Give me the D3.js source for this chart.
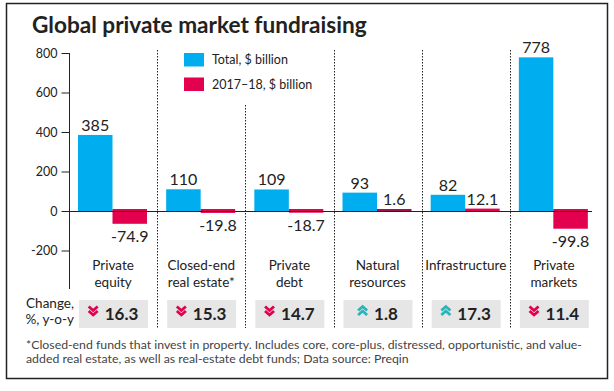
<!DOCTYPE html>
<html>
<head>
<meta charset="utf-8">
<script src="https://cdn.jsdelivr.net/npm/d3@7"></script>
<style>
  html, body { margin: 0; padding: 0; background: #fff; }
  svg { display: block; font-family: Lato, "Open Sans", sans-serif; }
</style>
</head>
<body>
<div id="chart"></div>
<script>
/* ── Data ─────────────────────────────────────────────────────────── */

const categories = ['Private equity', 'Closed-end real estate*', 'Private debt',
  'Natural resources', 'Infrastructure', 'Private markets'];
const categoryLines = [['Private', 'equity'], ['Closed-end', 'real estate*'], ['Private', 'debt'],
  ['Natural', 'resources'], ['Infrastructure'], ['Private', 'markets']];
const totals = [385, 110, 109, 93, 82, 778];
const change1718 = [-74.9, -19.8, -18.7, 1.6, 12.1, -99.8];
const yoyChange = [-16.3, -15.3, -14.7, 1.8, 17.3, -11.4];
const yTicks = [-200, 0, 200, 400, 600, 800];
const seriesNames = ['Total, $ billion', '2017\u201318, $ billion'];
const footnote = [
  '*Closed-end funds that invest in property. Includes core, core-plus, distressed, opportunistic, and value-',
  'added real estate, as well as real-estate debt funds; Data source: Preqin'
];

/* ── Palette ──────────────────────────────────────────────────────── */

const COLORS = {
  total: '#00ADEE',
  change: '#E2004F',
  up: '#2AB4B9',
  box: '#E6E6E6',
  text: '#222222',
  note: '#444444',
};

/* ── Setup ────────────────────────────────────────────────────────── */

const W = 614, H = 391;
const svg = d3.select('#chart').append('svg')
  .attr('width', W).attr('height', H);

svg.append('rect')
  .attr('x', 6.5).attr('y', 3.5).attr('width', 601).attr('height', 375)
  .attr('fill', '#fff').attr('stroke', '#222').attr('stroke-width', 1.5);

svg.append('text')
  .attr('x', 32).attr('y', 33)
  .attr('font-size', 22.6).attr('font-weight', 700).attr('fill', COLORS.text)
  .text('Global private market fundraising');

const x = d3.scaleBand().domain(categories).range([69, 598]).paddingInner(0).paddingOuter(0);
const xSub = d3.scaleBand().domain(['total', 'change']).range([9, 78]);
const y = d3.scaleLinear().domain([-200, 800]).range([250.5, 53]);

/* ── Separators ───────────────────────────────────────────────────── */

svg.append('g').selectAll('line')
  .data(categories.slice(1))
  .join('line')
  .attr('x1', d => Math.round(x(d)) + 0.5)
  .attr('x2', d => Math.round(x(d)) + 0.5)
  .attr('y1', (d, i) => i === 1 ? 105 : 50)
  .attr('y2', 328)
  .attr('stroke', '#222').attr('stroke-width', 1)
  .attr('stroke-dasharray', '1.5,1.5');

/* ── Axis ─────────────────────────────────────────────────────────── */

const yAxis = d3.axisLeft(y).tickValues(yTicks).tickSize(8).tickPadding(4)
  .tickFormat(d => String(d));
const axisG = svg.append('g')
  .attr('transform', 'translate(69.5,0)')
  .call(yAxis);
axisG.select('.domain').remove();
axisG.selectAll('.tick line').attr('stroke', '#222');
axisG.selectAll('.tick text')
  .attr('font-family', 'Lato, sans-serif').attr('font-size', 12.5).attr('fill', COLORS.text);
axisG.append('line')
  .attr('x1', 0).attr('x2', 0).attr('y1', y(800)).attr('y2', 289)
  .attr('stroke', '#222');

/* ── Bars ─────────────────────────────────────────────────────────── */

const groups = svg.append('g').selectAll('g')
  .data(categories)
  .join('g')
  .attr('transform', d => 'translate(' + x(d) + ',0)');

groups.append('rect')
  .attr('x', xSub('total')).attr('width', xSub.bandwidth())
  .attr('y', (d, i) => y(totals[i]))
  .attr('height', (d, i) => y(0) - y(totals[i]))
  .attr('fill', COLORS.total);

groups.append('rect')
  .attr('x', xSub('change')).attr('width', xSub.bandwidth())
  .attr('y', (d, i) => Math.min(y(change1718[i]), y(0) - 2))
  .attr('height', (d, i) => Math.max(Math.abs(y(change1718[i]) - y(0)), 2))
  .attr('fill', (d, i) => change1718[i] > 0 && change1718[i] < 5 ? '#A0104A' : COLORS.change);

groups.append('text')
  .attr('x', xSub('total') + xSub.bandwidth() / 2)
  .attr('y', (d, i) => y(totals[i]) - 4)
  .attr('text-anchor', 'middle').attr('font-size', 16).attr('fill', COLORS.text)
  .text((d, i) => totals[i]);

groups.append('text')
  .attr('x', xSub('change') + xSub.bandwidth() / 2)
  .attr('y', (d, i) => change1718[i] < 0 ? y(change1718[i]) + 16 : Math.min(y(change1718[i]), y(0) - 2) - 4)
  .attr('text-anchor', 'middle').attr('font-size', 16).attr('fill', COLORS.text)
  .text((d, i) => change1718[i]);

// zero line
svg.append('line')
  .attr('x1', 69).attr('x2', 592).attr('y1', Math.round(y(0)) + 0.5).attr('y2', Math.round(y(0)) + 0.5)
  .attr('stroke', '#222');

/* ── Category labels ──────────────────────────────────────────────── */

groups.append('text')
  .attr('x', x.bandwidth() / 2)
  .attr('text-anchor', 'middle').attr('font-size', 13.5).attr('fill', COLORS.text)
  .selectAll('tspan')
  .data((d, i) => categoryLines[i])
  .join('tspan')
  .attr('x', x.bandwidth() / 2)
  .attr('y', (d, j) => 270 + j * 17)
  .text(d => d);

/* ── Legend ───────────────────────────────────────────────────────── */

const legend = svg.append('g').selectAll('g')
  .data(seriesNames)
  .join('g')
  .attr('transform', (d, i) => 'translate(184,' + (53 + i * 24.5) + ')');
legend.append('rect')
  .attr('width', 20).attr('height', 13.5)
  .attr('fill', (d, i) => i === 0 ? COLORS.total : COLORS.change);
legend.append('text')
  .attr('x', 28).attr('y', 11)
  .attr('font-size', 12.5).attr('fill', COLORS.text)
  .text(d => d);

/* ── Change row ───────────────────────────────────────────────────── */

svg.append('text')
  .attr('text-anchor', 'end').attr('font-size', 13.5).attr('fill', COLORS.text)
  .selectAll('tspan')
  .data(['Change,', '%, y-o-y'])
  .join('tspan')
  .attr('x', 74).attr('y', (d, j) => 308 + j * 16)
  .text(d => d);

groups.append('rect')
  .attr('x', xSub.range()[0] + 1).attr('width', xSub.range()[1] - xSub.range()[0])
  .attr('y', 300).attr('height', 28)
  .attr('fill', COLORS.box);

const chip = groups.append('g');
chip.append('text')
  .attr('y', 320)
  .attr('font-size', 17).attr('font-weight', 700).attr('fill', COLORS.text)
  .text((d, i) => Math.abs(yoyChange[i]).toFixed(1));

chip.each(function (d, i) {
  const g = d3.select(this);
  const tw = g.select('text').node().getComputedTextLength();
  const cw = 9, gap = 7;
  const total = cw + gap + tw;
  const cx = xSub.range()[0] + 1 + (xSub.range()[1] - xSub.range()[0]) / 2;
  const x0 = cx - total / 2;
  g.select('text').attr('x', x0 + cw + gap);
  const up = yoyChange[i] > 0;
  const path = d3.path();
  [0, 4.5].forEach(off => {
    if (up) {
      path.moveTo(x0, 315 - off);
      path.lineTo(x0 + cw / 2, 311 - off);
      path.lineTo(x0 + cw, 315 - off);
    } else {
      path.moveTo(x0, 306.5 + off);
      path.lineTo(x0 + cw / 2, 310.5 + off);
      path.lineTo(x0 + cw, 306.5 + off);
    }
  });
  g.append('path')
    .attr('d', path.toString())
    .attr('fill', 'none')
    .attr('stroke', up ? COLORS.up : COLORS.change)
    .attr('stroke-width', 2.8);
});

/* ── Footnote ─────────────────────────────────────────────────────── */

svg.append('text')
  .attr('font-size', 12.3).attr('fill', COLORS.note)
  .selectAll('tspan')
  .data(footnote)
  .join('tspan')
  .attr('x', 26).attr('y', (d, j) => 349 + j * 14)
  .text(d => d);
</script>
</body>
</html>
